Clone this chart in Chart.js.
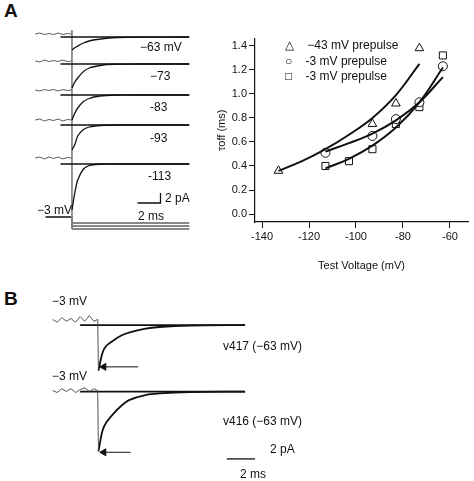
<!DOCTYPE html>
<html><head><meta charset="utf-8">
<script src="https://cdn.jsdelivr.net/npm/chart.js@4"></script>
<style>
body{margin:0;background:#fff;width:474px;height:481px;position:relative;overflow:hidden;font-family:"Liberation Sans",Arial,sans-serif;color:#111}
canvas{position:absolute}
.t{position:absolute;font-size:12px;white-space:nowrap}
.big{font-weight:bold;font-size:19px}
</style></head><body>
<div class="t big" style="left:4px;top:0px">A</div>
<div class="t big" style="left:4px;top:288px">B</div>
<canvas id="ca" style="left:30px;top:25px;width:165px;height:210px"></canvas>
<canvas id="cs" style="left:215px;top:30px;width:259px;height:247px"></canvas>
<canvas id="cb" style="left:40px;top:285px;width:220px;height:196px"></canvas>
<div class="t" style="left:140px;top:40px">−63 mV</div>
<div class="t" style="left:150px;top:69px">−73</div>
<div class="t" style="left:150px;top:100px">-83</div>
<div class="t" style="left:150px;top:131px">-93</div>
<div class="t" style="left:148px;top:169px">-113</div>
<div class="t" style="left:37px;top:203px">−3 mV</div>
<div class="t" style="left:165px;top:191px">2 pA</div>
<div class="t" style="left:138px;top:209px">2 ms</div>
<div class="t" style="left:285px;top:38px;line-height:15.5px">△&nbsp;&nbsp;&nbsp;&nbsp;−43 mV prepulse<br>○&nbsp;&nbsp;&nbsp;&nbsp;-3 mV prepulse<br>□&nbsp;&nbsp;&nbsp;&nbsp;-3 mV prepulse</div>
<div class="t" style="left:52px;top:294px">−3 mV</div>
<div class="t" style="left:52px;top:369px">−3 mV</div>
<div class="t" style="left:223px;top:339px">v417 (−63 mV)</div>
<div class="t" style="left:223px;top:414px">v416 (−63 mV)</div>
<div class="t" style="left:270px;top:442px">2 pA</div>
<div class="t" style="left:240px;top:467px">2 ms</div>
<script>
// ---- scatter data (panel A right)
const voltTri=[-133,-93,-83,-73], tauTri=[0.36,0.75,0.92,1.38];
const voltCir=[-113,-93,-83,-73,-63], tauCir=[0.51,0.65,0.79,0.93,1.23];
const voltSq=[-113,-103,-93,-83,-73,-63], tauSq=[0.40,0.44,0.54,0.75,0.89,1.32];
const fitTriV=[-133,-123,-113,-103,-93,-83,-73], fitTriT=[0.36,0.44,0.54,0.66,0.80,0.99,1.25];
const fitCirV=[-113,-103,-93,-83,-73,-63], fitCirT=[0.52,0.59,0.67,0.78,0.93,1.14];
const fitSqV=[-113,-103,-93,-83,-73,-63], fitSqT=[0.38,0.46,0.57,0.72,0.93,1.22];
const xTicks=[-140,-120,-100,-80,-60];
const yTicks=[0.0,0.2,0.4,0.6,0.8,1.0,1.2,1.4];
// ---- traces panel A (time ms, current pA, offset per trace)
const trT=[0,0.25,0.5,1,1.5,2,3,4,6,10.2];
const trPreT=[-3.2,-2.8,-2.4,-2.0,-1.6,-1.2,-0.8,-0.4,-0.05];
const trPre=[[-1.8,-1.6,-1.9,-1.7,-1.9,-1.6,-1.9,-1.7,-1.8],[-7.2,-7.4,-7.0,-7.3,-7.1,-7.3,-7.0,-7.3,-7.2],[-13,-13.2,-12.9,-13.1,-12.9,-13.2,-12.9,-13.1,-13],[-19,-18.8,-19.2,-18.9,-19.1,-18.8,-19.2,-18.9,-19],[-26.6,-26.4,-26.8,-26.4,-26.7,-26.4,-26.8,-26.5,-26.6]];
const trVal=[[-5.0,-4.55,-4.2,-3.6,-3.2,-2.95,-2.65,-2.5,-2.43,-2.4],[-12.6,-11.4,-10.6,-9.3,-8.6,-8.3,-7.9,-7.85,-7.8,-7.8],[-19,-17.6,-16.6,-15.3,-14.7,-14.35,-14.1,-14.0,-14,-14],[-25,-23.9,-22.2,-20.9,-20.4,-20.2,-20.05,-20,-20,-20],[-37,-33.5,-31.0,-28.8,-28.1,-27.9,-27.8,-27.8,-27.8,-27.8]];
const trBase=[-2.4,-7.8,-14,-20,-27.8];
const stepLevels=[-39.6,-40.2,-40.8];
// ---- traces panel B
const bT=[0,0.25,0.5,1,1.5,2,3,4,6,9.6];
const bPreT=[-3,-2.7,-2.4,-2.1,-1.8,-1.5,-1.2,-0.9,-0.6,-0.3,-0.05];
const bPre=[[-3.1,-3.4,-2.9,-3.3,-3.0,-3.4,-2.8,-3.3,-2.7,-3.3,-3.1],[-10.6,-10.8,-10.4,-10.7,-10.4,-10.8,-10.5,-10.3,-10.7,-10.4,-10.6]];
const bVal=[[-8.5,-6.7,-5.9,-5.3,-4.8,-4.5,-4.1,-3.9,-3.75,-3.7],[-17,-14.9,-14.0,-13,-12.2,-11.6,-11.1,-10.9,-10.75,-10.7]];
const bBase=[-3.7,-10.7];
const bArrowY=[-8.1,-17.1];

const line=(pts,o={})=>Object.assign({type:'line',data:pts,borderColor:'#111',borderWidth:1.2,pointRadius:0,tension:0.3,fill:false},o);
const hidden={display:false};
function mk(id,datasets,xmin,xmax,ymin,ymax){
  return new Chart(document.getElementById(id),{type:'scatter',data:{datasets},
    options:{responsive:false,animation:false,events:[],plugins:{legend:hidden,tooltip:{enabled:false}},layout:{padding:0},
      scales:{x:{type:'linear',display:false,min:xmin,max:xmax},y:{display:false,min:ymin,max:ymax}}}});
}
function setSize(id,w,h){const c=document.getElementById(id);c.width=w;c.height=h;}
setSize('ca',165,210);setSize('cs',259,247);setSize('cb',220,196);

// panel A traces
const aDs=[];
for(let i=0;i<5;i++){
  aDs.push(line(trPreT.map((t,j)=>({x:t,y:trPre[i][j]})),{tension:0,borderWidth:0.8,borderColor:'#333'}));
  aDs.push(line(trT.map((t,j)=>({x:t,y:trVal[i][j]})),{tension:0.25,borderWidth:1.3}));
  aDs.push(line([{x:-1,y:trBase[i]},{x:10.2,y:trBase[i]}],{borderWidth:1.5,tension:0}));
}
aDs.push(line([{x:0,y:-1},{x:0,y:-40.8}],{borderColor:'#888',borderWidth:1,tension:0}));
aDs.push(line([{x:-2.3,y:-38.4},{x:0,y:-38.4},{x:0,y:-40.8}],{borderWidth:1.3,tension:0}));
stepLevels.forEach(v=>aDs.push(line([{x:0,y:v},{x:10.2,y:v}],{borderWidth:1,tension:0})));
aDs.push(line([{x:5.7,y:-35.6},{x:7.7,y:-35.6},{x:7.7,y:-33.6}],{borderWidth:1.3,tension:0}));
mk('ca',aDs,-3.65,10.7,-42,0);

// panel B traces
const bDs=[];
for(let i=0;i<2;i++){
  const pts=bPreT.map((t,j)=>({x:t,y:bPre[i][j]})).concat([{x:0,y:bVal[i][0]}]);
  bDs.push(line(pts,{tension:0,borderWidth:0.9,borderColor:'#444'}));
  bDs.push(line(bT.map((t,j)=>({x:t,y:bVal[i][j]})),{borderWidth:1.8}));
  bDs.push(line([{x:-1.2,y:bBase[i]},{x:9.6,y:bBase[i]}],{borderWidth:1.8,tension:0}));
  bDs.push(line([{x:0.35,y:bArrowY[i]},{x:2.6-i*0.5,y:bArrowY[i]}],{borderWidth:1,tension:0,
    pointRadius:[4,0],pointStyle:'triangle',rotation:270,pointBackgroundColor:'#111',pointBorderColor:'#111'}));
}
bDs.push(line([{x:8.4,y:-17.8},{x:10.4,y:-17.8},{x:10.4,y:-15.8}],{borderWidth:1.3,tension:0}));
mk('cb',bDs,-3.5,10.25,-19.6,0);

// scatter chart
const P=(xs,ys)=>xs.map((x,i)=>({x,y:ys[i]}));
const mark=(pts,style)=>({type:'scatter',data:pts,pointStyle:style,pointRadius:style==='circle'?4.5:5,borderColor:'#111',backgroundColor:'#fff',pointBorderWidth:1});
new Chart(document.getElementById('cs'),{type:'scatter',
  data:{datasets:[
    line(P(fitTriV,fitTriT),{borderWidth:2,tension:0.4}),
    line(P(fitCirV,fitCirT),{borderWidth:2,tension:0.4}),
    line(P(fitSqV,fitSqT),{borderWidth:2,tension:0.4}),
    mark(P(voltTri,tauTri),'triangle'),mark(P(voltCir,tauCir),'circle'),mark(P(voltSq,tauSq),'rect')]},
  options:{responsive:false,animation:false,events:[],layout:{padding:{top:7,right:6}},
    plugins:{legend:hidden,tooltip:{enabled:false}},
    scales:{
      x:{type:'linear',min:-143,max:-52.3,afterFit:s=>{s.height=55},
        afterBuildTicks:s=>{s.ticks=xTicks.map(v=>({value:v}))},
        grid:{drawOnChartArea:false,tickLength:6,color:'#111'},border:{color:'#111',width:1.2},
        ticks:{color:'#111',font:{size:11,family:'Liberation Sans'},padding:2},
        title:{display:true,text:'Test Voltage (mV)',color:'#111',font:{size:11,family:'Liberation Sans'},padding:{top:2}}},
      y:{min:-0.066,max:1.46,afterFit:s=>{s.width=40},
        afterBuildTicks:s=>{s.ticks=yTicks.map(v=>({value:v}))},
        grid:{drawOnChartArea:false,tickLength:6,color:'#111'},border:{color:'#111',width:1.2},
        ticks:{color:'#111',font:{size:11,family:'Liberation Sans'},padding:2,callback:v=>v.toFixed(1)},
        title:{display:true,text:'τoff (ms)',color:'#111',font:{size:11,family:'Liberation Sans'},padding:0}}
    }}});
</script></body></html>
